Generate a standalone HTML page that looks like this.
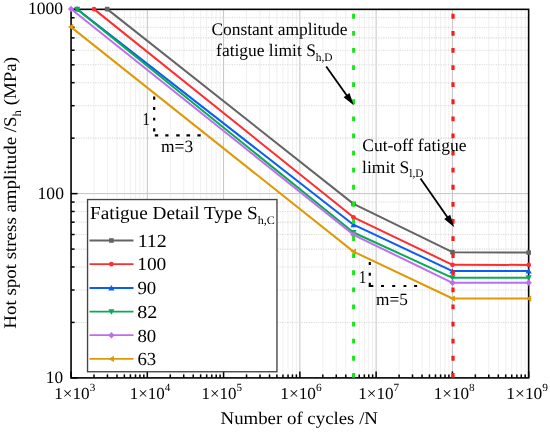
<!DOCTYPE html>
<html><head><meta charset="utf-8"><style>
html,body{margin:0;padding:0;background:#fff;}
body{width:550px;height:432px;overflow:hidden;font-family:"Liberation Serif",serif;}
svg{display:block;will-change:transform;text-rendering:geometricPrecision;}
</style></head><body>
<svg width="550" height="432" viewBox="0 0 550 432">
<rect width="550" height="432" fill="#fff"/>
<g><line x1="94.01" y1="9.35" x2="94.01" y2="377.9" stroke="#e0e0e0" stroke-width="1" stroke-dasharray="1 1"/><line x1="107.44" y1="9.35" x2="107.44" y2="377.9" stroke="#e0e0e0" stroke-width="1" stroke-dasharray="1 1"/><line x1="116.97" y1="9.35" x2="116.97" y2="377.9" stroke="#e0e0e0" stroke-width="1" stroke-dasharray="1 1"/><line x1="124.36" y1="9.35" x2="124.36" y2="377.9" stroke="#e0e0e0" stroke-width="1" stroke-dasharray="1 1"/><line x1="130.40" y1="9.35" x2="130.40" y2="377.9" stroke="#e0e0e0" stroke-width="1" stroke-dasharray="1 1"/><line x1="135.51" y1="9.35" x2="135.51" y2="377.9" stroke="#e0e0e0" stroke-width="1" stroke-dasharray="1 1"/><line x1="139.93" y1="9.35" x2="139.93" y2="377.9" stroke="#e0e0e0" stroke-width="1" stroke-dasharray="1 1"/><line x1="143.83" y1="9.35" x2="143.83" y2="377.9" stroke="#e0e0e0" stroke-width="1" stroke-dasharray="1 1"/><line x1="147.32" y1="9.35" x2="147.32" y2="377.9" stroke="#c4c4c4" stroke-width="1"/><line x1="170.28" y1="9.35" x2="170.28" y2="377.9" stroke="#e0e0e0" stroke-width="1" stroke-dasharray="1 1"/><line x1="183.71" y1="9.35" x2="183.71" y2="377.9" stroke="#e0e0e0" stroke-width="1" stroke-dasharray="1 1"/><line x1="193.24" y1="9.35" x2="193.24" y2="377.9" stroke="#e0e0e0" stroke-width="1" stroke-dasharray="1 1"/><line x1="200.63" y1="9.35" x2="200.63" y2="377.9" stroke="#e0e0e0" stroke-width="1" stroke-dasharray="1 1"/><line x1="206.67" y1="9.35" x2="206.67" y2="377.9" stroke="#e0e0e0" stroke-width="1" stroke-dasharray="1 1"/><line x1="211.78" y1="9.35" x2="211.78" y2="377.9" stroke="#e0e0e0" stroke-width="1" stroke-dasharray="1 1"/><line x1="216.20" y1="9.35" x2="216.20" y2="377.9" stroke="#e0e0e0" stroke-width="1" stroke-dasharray="1 1"/><line x1="220.10" y1="9.35" x2="220.10" y2="377.9" stroke="#e0e0e0" stroke-width="1" stroke-dasharray="1 1"/><line x1="223.59" y1="9.35" x2="223.59" y2="377.9" stroke="#c4c4c4" stroke-width="1"/><line x1="246.55" y1="9.35" x2="246.55" y2="377.9" stroke="#e0e0e0" stroke-width="1" stroke-dasharray="1 1"/><line x1="259.98" y1="9.35" x2="259.98" y2="377.9" stroke="#e0e0e0" stroke-width="1" stroke-dasharray="1 1"/><line x1="269.51" y1="9.35" x2="269.51" y2="377.9" stroke="#e0e0e0" stroke-width="1" stroke-dasharray="1 1"/><line x1="276.90" y1="9.35" x2="276.90" y2="377.9" stroke="#e0e0e0" stroke-width="1" stroke-dasharray="1 1"/><line x1="282.94" y1="9.35" x2="282.94" y2="377.9" stroke="#e0e0e0" stroke-width="1" stroke-dasharray="1 1"/><line x1="288.05" y1="9.35" x2="288.05" y2="377.9" stroke="#e0e0e0" stroke-width="1" stroke-dasharray="1 1"/><line x1="292.47" y1="9.35" x2="292.47" y2="377.9" stroke="#e0e0e0" stroke-width="1" stroke-dasharray="1 1"/><line x1="296.37" y1="9.35" x2="296.37" y2="377.9" stroke="#e0e0e0" stroke-width="1" stroke-dasharray="1 1"/><line x1="299.86" y1="9.35" x2="299.86" y2="377.9" stroke="#c4c4c4" stroke-width="1"/><line x1="322.82" y1="9.35" x2="322.82" y2="377.9" stroke="#e0e0e0" stroke-width="1" stroke-dasharray="1 1"/><line x1="336.25" y1="9.35" x2="336.25" y2="377.9" stroke="#e0e0e0" stroke-width="1" stroke-dasharray="1 1"/><line x1="345.78" y1="9.35" x2="345.78" y2="377.9" stroke="#e0e0e0" stroke-width="1" stroke-dasharray="1 1"/><line x1="353.17" y1="9.35" x2="353.17" y2="377.9" stroke="#e0e0e0" stroke-width="1" stroke-dasharray="1 1"/><line x1="359.21" y1="9.35" x2="359.21" y2="377.9" stroke="#e0e0e0" stroke-width="1" stroke-dasharray="1 1"/><line x1="364.32" y1="9.35" x2="364.32" y2="377.9" stroke="#e0e0e0" stroke-width="1" stroke-dasharray="1 1"/><line x1="368.74" y1="9.35" x2="368.74" y2="377.9" stroke="#e0e0e0" stroke-width="1" stroke-dasharray="1 1"/><line x1="372.64" y1="9.35" x2="372.64" y2="377.9" stroke="#e0e0e0" stroke-width="1" stroke-dasharray="1 1"/><line x1="376.13" y1="9.35" x2="376.13" y2="377.9" stroke="#c4c4c4" stroke-width="1"/><line x1="399.09" y1="9.35" x2="399.09" y2="377.9" stroke="#e0e0e0" stroke-width="1" stroke-dasharray="1 1"/><line x1="412.52" y1="9.35" x2="412.52" y2="377.9" stroke="#e0e0e0" stroke-width="1" stroke-dasharray="1 1"/><line x1="422.05" y1="9.35" x2="422.05" y2="377.9" stroke="#e0e0e0" stroke-width="1" stroke-dasharray="1 1"/><line x1="429.44" y1="9.35" x2="429.44" y2="377.9" stroke="#e0e0e0" stroke-width="1" stroke-dasharray="1 1"/><line x1="435.48" y1="9.35" x2="435.48" y2="377.9" stroke="#e0e0e0" stroke-width="1" stroke-dasharray="1 1"/><line x1="440.59" y1="9.35" x2="440.59" y2="377.9" stroke="#e0e0e0" stroke-width="1" stroke-dasharray="1 1"/><line x1="445.01" y1="9.35" x2="445.01" y2="377.9" stroke="#e0e0e0" stroke-width="1" stroke-dasharray="1 1"/><line x1="448.91" y1="9.35" x2="448.91" y2="377.9" stroke="#e0e0e0" stroke-width="1" stroke-dasharray="1 1"/><line x1="452.40" y1="9.35" x2="452.40" y2="377.9" stroke="#c4c4c4" stroke-width="1"/><line x1="475.36" y1="9.35" x2="475.36" y2="377.9" stroke="#e0e0e0" stroke-width="1" stroke-dasharray="1 1"/><line x1="488.79" y1="9.35" x2="488.79" y2="377.9" stroke="#e0e0e0" stroke-width="1" stroke-dasharray="1 1"/><line x1="498.32" y1="9.35" x2="498.32" y2="377.9" stroke="#e0e0e0" stroke-width="1" stroke-dasharray="1 1"/><line x1="505.71" y1="9.35" x2="505.71" y2="377.9" stroke="#e0e0e0" stroke-width="1" stroke-dasharray="1 1"/><line x1="511.75" y1="9.35" x2="511.75" y2="377.9" stroke="#e0e0e0" stroke-width="1" stroke-dasharray="1 1"/><line x1="516.86" y1="9.35" x2="516.86" y2="377.9" stroke="#e0e0e0" stroke-width="1" stroke-dasharray="1 1"/><line x1="521.28" y1="9.35" x2="521.28" y2="377.9" stroke="#e0e0e0" stroke-width="1" stroke-dasharray="1 1"/><line x1="525.18" y1="9.35" x2="525.18" y2="377.9" stroke="#e0e0e0" stroke-width="1" stroke-dasharray="1 1"/><line x1="71.05" y1="322.43" x2="528.65" y2="322.43" stroke="#d9d9d9" stroke-width="1.1" stroke-dasharray="1.2 1.2"/><line x1="71.05" y1="289.98" x2="528.65" y2="289.98" stroke="#d9d9d9" stroke-width="1.1" stroke-dasharray="1.2 1.2"/><line x1="71.05" y1="266.96" x2="528.65" y2="266.96" stroke="#d9d9d9" stroke-width="1.1" stroke-dasharray="1.2 1.2"/><line x1="71.05" y1="249.10" x2="528.65" y2="249.10" stroke="#d9d9d9" stroke-width="1.1" stroke-dasharray="1.2 1.2"/><line x1="71.05" y1="234.51" x2="528.65" y2="234.51" stroke="#d9d9d9" stroke-width="1.1" stroke-dasharray="1.2 1.2"/><line x1="71.05" y1="222.17" x2="528.65" y2="222.17" stroke="#d9d9d9" stroke-width="1.1" stroke-dasharray="1.2 1.2"/><line x1="71.05" y1="211.48" x2="528.65" y2="211.48" stroke="#d9d9d9" stroke-width="1.1" stroke-dasharray="1.2 1.2"/><line x1="71.05" y1="202.06" x2="528.65" y2="202.06" stroke="#d9d9d9" stroke-width="1.1" stroke-dasharray="1.2 1.2"/><line x1="71.05" y1="193.62" x2="528.65" y2="193.62" stroke="#c4c4c4" stroke-width="1"/><line x1="71.05" y1="138.15" x2="528.65" y2="138.15" stroke="#d9d9d9" stroke-width="1.1" stroke-dasharray="1.2 1.2"/><line x1="71.05" y1="105.70" x2="528.65" y2="105.70" stroke="#d9d9d9" stroke-width="1.1" stroke-dasharray="1.2 1.2"/><line x1="71.05" y1="82.68" x2="528.65" y2="82.68" stroke="#d9d9d9" stroke-width="1.1" stroke-dasharray="1.2 1.2"/><line x1="71.05" y1="64.82" x2="528.65" y2="64.82" stroke="#d9d9d9" stroke-width="1.1" stroke-dasharray="1.2 1.2"/><line x1="71.05" y1="50.23" x2="528.65" y2="50.23" stroke="#d9d9d9" stroke-width="1.1" stroke-dasharray="1.2 1.2"/><line x1="71.05" y1="37.89" x2="528.65" y2="37.89" stroke="#d9d9d9" stroke-width="1.1" stroke-dasharray="1.2 1.2"/><line x1="71.05" y1="27.21" x2="528.65" y2="27.21" stroke="#d9d9d9" stroke-width="1.1" stroke-dasharray="1.2 1.2"/><line x1="71.05" y1="17.78" x2="528.65" y2="17.78" stroke="#d9d9d9" stroke-width="1.1" stroke-dasharray="1.2 1.2"/></g><g><line x1="71.05" y1="377.9" x2="71.05" y2="371.4" stroke="#000" stroke-width="1.5"/><line x1="94.01" y1="377.9" x2="94.01" y2="374.4" stroke="#000" stroke-width="1.5"/><line x1="107.44" y1="377.9" x2="107.44" y2="374.4" stroke="#000" stroke-width="1.5"/><line x1="116.97" y1="377.9" x2="116.97" y2="374.4" stroke="#000" stroke-width="1.5"/><line x1="124.36" y1="377.9" x2="124.36" y2="374.4" stroke="#000" stroke-width="1.5"/><line x1="130.40" y1="377.9" x2="130.40" y2="374.4" stroke="#000" stroke-width="1.5"/><line x1="135.51" y1="377.9" x2="135.51" y2="374.4" stroke="#000" stroke-width="1.5"/><line x1="139.93" y1="377.9" x2="139.93" y2="374.4" stroke="#000" stroke-width="1.5"/><line x1="143.83" y1="377.9" x2="143.83" y2="374.4" stroke="#000" stroke-width="1.5"/><line x1="147.32" y1="377.9" x2="147.32" y2="371.4" stroke="#000" stroke-width="1.5"/><line x1="170.28" y1="377.9" x2="170.28" y2="374.4" stroke="#000" stroke-width="1.5"/><line x1="183.71" y1="377.9" x2="183.71" y2="374.4" stroke="#000" stroke-width="1.5"/><line x1="193.24" y1="377.9" x2="193.24" y2="374.4" stroke="#000" stroke-width="1.5"/><line x1="200.63" y1="377.9" x2="200.63" y2="374.4" stroke="#000" stroke-width="1.5"/><line x1="206.67" y1="377.9" x2="206.67" y2="374.4" stroke="#000" stroke-width="1.5"/><line x1="211.78" y1="377.9" x2="211.78" y2="374.4" stroke="#000" stroke-width="1.5"/><line x1="216.20" y1="377.9" x2="216.20" y2="374.4" stroke="#000" stroke-width="1.5"/><line x1="220.10" y1="377.9" x2="220.10" y2="374.4" stroke="#000" stroke-width="1.5"/><line x1="223.59" y1="377.9" x2="223.59" y2="371.4" stroke="#000" stroke-width="1.5"/><line x1="246.55" y1="377.9" x2="246.55" y2="374.4" stroke="#000" stroke-width="1.5"/><line x1="259.98" y1="377.9" x2="259.98" y2="374.4" stroke="#000" stroke-width="1.5"/><line x1="269.51" y1="377.9" x2="269.51" y2="374.4" stroke="#000" stroke-width="1.5"/><line x1="276.90" y1="377.9" x2="276.90" y2="374.4" stroke="#000" stroke-width="1.5"/><line x1="282.94" y1="377.9" x2="282.94" y2="374.4" stroke="#000" stroke-width="1.5"/><line x1="288.05" y1="377.9" x2="288.05" y2="374.4" stroke="#000" stroke-width="1.5"/><line x1="292.47" y1="377.9" x2="292.47" y2="374.4" stroke="#000" stroke-width="1.5"/><line x1="296.37" y1="377.9" x2="296.37" y2="374.4" stroke="#000" stroke-width="1.5"/><line x1="299.86" y1="377.9" x2="299.86" y2="371.4" stroke="#000" stroke-width="1.5"/><line x1="322.82" y1="377.9" x2="322.82" y2="374.4" stroke="#000" stroke-width="1.5"/><line x1="336.25" y1="377.9" x2="336.25" y2="374.4" stroke="#000" stroke-width="1.5"/><line x1="345.78" y1="377.9" x2="345.78" y2="374.4" stroke="#000" stroke-width="1.5"/><line x1="353.17" y1="377.9" x2="353.17" y2="374.4" stroke="#000" stroke-width="1.5"/><line x1="359.21" y1="377.9" x2="359.21" y2="374.4" stroke="#000" stroke-width="1.5"/><line x1="364.32" y1="377.9" x2="364.32" y2="374.4" stroke="#000" stroke-width="1.5"/><line x1="368.74" y1="377.9" x2="368.74" y2="374.4" stroke="#000" stroke-width="1.5"/><line x1="372.64" y1="377.9" x2="372.64" y2="374.4" stroke="#000" stroke-width="1.5"/><line x1="376.13" y1="377.9" x2="376.13" y2="371.4" stroke="#000" stroke-width="1.5"/><line x1="399.09" y1="377.9" x2="399.09" y2="374.4" stroke="#000" stroke-width="1.5"/><line x1="412.52" y1="377.9" x2="412.52" y2="374.4" stroke="#000" stroke-width="1.5"/><line x1="422.05" y1="377.9" x2="422.05" y2="374.4" stroke="#000" stroke-width="1.5"/><line x1="429.44" y1="377.9" x2="429.44" y2="374.4" stroke="#000" stroke-width="1.5"/><line x1="435.48" y1="377.9" x2="435.48" y2="374.4" stroke="#000" stroke-width="1.5"/><line x1="440.59" y1="377.9" x2="440.59" y2="374.4" stroke="#000" stroke-width="1.5"/><line x1="445.01" y1="377.9" x2="445.01" y2="374.4" stroke="#000" stroke-width="1.5"/><line x1="448.91" y1="377.9" x2="448.91" y2="374.4" stroke="#000" stroke-width="1.5"/><line x1="452.40" y1="377.9" x2="452.40" y2="371.4" stroke="#000" stroke-width="1.5"/><line x1="475.36" y1="377.9" x2="475.36" y2="374.4" stroke="#000" stroke-width="1.5"/><line x1="488.79" y1="377.9" x2="488.79" y2="374.4" stroke="#000" stroke-width="1.5"/><line x1="498.32" y1="377.9" x2="498.32" y2="374.4" stroke="#000" stroke-width="1.5"/><line x1="505.71" y1="377.9" x2="505.71" y2="374.4" stroke="#000" stroke-width="1.5"/><line x1="511.75" y1="377.9" x2="511.75" y2="374.4" stroke="#000" stroke-width="1.5"/><line x1="516.86" y1="377.9" x2="516.86" y2="374.4" stroke="#000" stroke-width="1.5"/><line x1="521.28" y1="377.9" x2="521.28" y2="374.4" stroke="#000" stroke-width="1.5"/><line x1="525.18" y1="377.9" x2="525.18" y2="374.4" stroke="#000" stroke-width="1.5"/><line x1="528.67" y1="377.9" x2="528.67" y2="371.4" stroke="#000" stroke-width="1.5"/><line x1="71.05" y1="377.90" x2="77.55" y2="377.90" stroke="#000" stroke-width="1.5"/><line x1="71.05" y1="322.43" x2="74.55" y2="322.43" stroke="#000" stroke-width="1.5"/><line x1="71.05" y1="289.98" x2="74.55" y2="289.98" stroke="#000" stroke-width="1.5"/><line x1="71.05" y1="266.96" x2="74.55" y2="266.96" stroke="#000" stroke-width="1.5"/><line x1="71.05" y1="249.10" x2="74.55" y2="249.10" stroke="#000" stroke-width="1.5"/><line x1="71.05" y1="234.51" x2="74.55" y2="234.51" stroke="#000" stroke-width="1.5"/><line x1="71.05" y1="222.17" x2="74.55" y2="222.17" stroke="#000" stroke-width="1.5"/><line x1="71.05" y1="211.48" x2="74.55" y2="211.48" stroke="#000" stroke-width="1.5"/><line x1="71.05" y1="202.06" x2="74.55" y2="202.06" stroke="#000" stroke-width="1.5"/><line x1="71.05" y1="193.62" x2="77.55" y2="193.62" stroke="#000" stroke-width="1.5"/><line x1="71.05" y1="138.15" x2="74.55" y2="138.15" stroke="#000" stroke-width="1.5"/><line x1="71.05" y1="105.70" x2="74.55" y2="105.70" stroke="#000" stroke-width="1.5"/><line x1="71.05" y1="82.68" x2="74.55" y2="82.68" stroke="#000" stroke-width="1.5"/><line x1="71.05" y1="64.82" x2="74.55" y2="64.82" stroke="#000" stroke-width="1.5"/><line x1="71.05" y1="50.23" x2="74.55" y2="50.23" stroke="#000" stroke-width="1.5"/><line x1="71.05" y1="37.89" x2="74.55" y2="37.89" stroke="#000" stroke-width="1.5"/><line x1="71.05" y1="27.21" x2="74.55" y2="27.21" stroke="#000" stroke-width="1.5"/><line x1="71.05" y1="17.78" x2="74.55" y2="17.78" stroke="#000" stroke-width="1.5"/><line x1="71.05" y1="9.35" x2="77.55" y2="9.35" stroke="#000" stroke-width="1.5"/></g><rect x="71.05" y="9.35" width="457.60" height="368.55" fill="none" stroke="#000" stroke-width="1.6"/><g><polyline points="107.2,9.1 353.5,203.9 452.5,252.2 528.7,252.6" fill="none" stroke="#646464" stroke-width="2" stroke-linejoin="round"/><rect x="104.90" y="6.80" width="4.59" height="4.59" fill="#646464"/><rect x="351.20" y="201.60" width="4.59" height="4.59" fill="#646464"/><rect x="450.20" y="249.90" width="4.59" height="4.59" fill="#646464"/><rect x="526.40" y="250.30" width="4.59" height="4.59" fill="#646464"/><polyline points="94.0,9.1 353.5,217.3 452.5,264.8 528.7,264.9" fill="none" stroke="#ff2d2d" stroke-width="2" stroke-linejoin="round"/><circle cx="94.00" cy="9.10" r="2.38" fill="#ff2d2d"/><circle cx="353.50" cy="217.30" r="2.38" fill="#ff2d2d"/><circle cx="452.50" cy="264.80" r="2.38" fill="#ff2d2d"/><circle cx="528.70" cy="264.90" r="2.38" fill="#ff2d2d"/><polyline points="77.0,9.0 353.5,224.7 452.5,271.1 528.7,271.1" fill="none" stroke="#0a5ef0" stroke-width="2" stroke-linejoin="round"/><polygon points="77.00,6.06 80.08,11.52 73.92,11.52" fill="#0a5ef0"/><polygon points="353.50,221.76 356.58,227.22 350.42,227.22" fill="#0a5ef0"/><polygon points="452.50,268.16 455.58,273.62 449.42,273.62" fill="#0a5ef0"/><polygon points="528.70,268.16 531.78,273.62 525.62,273.62" fill="#0a5ef0"/><polyline points="77.1,9.2 353.5,232.5 452.5,277.8 528.7,277.8" fill="none" stroke="#0aaa55" stroke-width="2" stroke-linejoin="round"/><polygon points="77.10,12.14 80.18,6.68 74.02,6.68" fill="#0aaa55"/><polygon points="353.50,235.44 356.58,229.98 350.42,229.98" fill="#0aaa55"/><polygon points="452.50,280.74 455.58,275.28 449.42,275.28" fill="#0aaa55"/><polygon points="528.70,280.74 531.78,275.28 525.62,275.28" fill="#0aaa55"/><polyline points="71.1,9.0 353.5,234.8 452.5,282.8 528.7,282.8" fill="none" stroke="#bd6ef0" stroke-width="2" stroke-linejoin="round"/><polygon points="71.10,5.70 74.32,9.00 71.10,12.30 67.88,9.00" fill="#bd6ef0"/><polygon points="353.50,231.50 356.72,234.80 353.50,238.10 350.28,234.80" fill="#bd6ef0"/><polygon points="452.50,279.50 455.72,282.80 452.50,286.10 449.28,282.80" fill="#bd6ef0"/><polygon points="528.70,279.50 531.92,282.80 528.70,286.10 525.48,282.80" fill="#bd6ef0"/><polyline points="70.8,26.9 353.5,251.6 452.5,298.5 528.7,298.6" fill="none" stroke="#de9a06" stroke-width="2" stroke-linejoin="round"/><polygon points="67.86,26.90 73.32,23.82 73.32,29.98" fill="#de9a06"/><polygon points="350.56,251.60 356.02,248.52 356.02,254.68" fill="#de9a06"/><polygon points="449.56,298.50 455.02,295.42 455.02,301.58" fill="#de9a06"/><polygon points="525.76,298.60 531.22,295.52 531.22,301.68" fill="#de9a06"/></g><line x1="353.6" y1="9.35" x2="353.6" y2="377.9" stroke="#19e619" stroke-width="3" stroke-dasharray="4.8 12.3" stroke-dashoffset="-4.5"/><line x1="453" y1="9.35" x2="453" y2="377.9" stroke="#ff1a1a" stroke-width="3.2" stroke-dasharray="4.8 12.3" stroke-dashoffset="-4.5"/><path d="M154.2 96.4V99.8M154.2 107.1V109.9M154.2 117.7V120.6M154.2 128.2V131.4M154.8 135.3H158.2M165.3 135.3H168.5M176.2 135.3H179.7M186.5 135.3H190.1M197.4 135.3H200.7M369.8 262.1V265.0M369.8 272.7V275.7M369.8 282.8V286H373.3M381.0 286H384.0M392.2 286H395.2M403.5 286H406.4M414.1 286H417.1" stroke="#000" stroke-width="2.2" fill="none" stroke-linejoin="miter"/><line x1="326.2" y1="66.6" x2="347.70" y2="96.75" stroke="#000" stroke-width="1.8"/><polygon points="353.8,105.3 343.61,97.21 349.47,93.03" fill="#000"/><line x1="420.5" y1="178.4" x2="448.32" y2="218.57" stroke="#000" stroke-width="1.8"/><polygon points="454.3,227.2 444.22,218.97 450.14,214.87" fill="#000"/><g font-family="Liberation Serif, serif" fill="#000"><text transform="translate(27.97,14.40) scale(1.0156,1)" font-size="17.3">1000</text><text transform="translate(37.57,198.60) scale(1.0174,1)" font-size="17.3">100</text><text transform="translate(45.80,383.30) scale(1.0000,1)" font-size="17.3">10</text><text transform="translate(54.15,398.90) scale(1.0263,1)" font-size="16.8">1×10<tspan font-size="11" dy="-7.5">3</tspan></text><text transform="translate(129.78,398.90) scale(1.0105,1)" font-size="16.8">1×10<tspan font-size="11" dy="-7.5">4</tspan></text><text transform="translate(201.58,398.90) scale(1.0105,1)" font-size="16.8">1×10<tspan font-size="11" dy="-7.5">5</tspan></text><text transform="translate(280.24,398.90) scale(1.0316,1)" font-size="16.8">1×10<tspan font-size="11" dy="-7.5">6</tspan></text><text transform="translate(358.16,398.90) scale(1.0211,1)" font-size="16.8">1×10<tspan font-size="11" dy="-7.5">7</tspan></text><text transform="translate(433.65,398.90) scale(1.0237,1)" font-size="16.8">1×10<tspan font-size="11" dy="-7.5">8</tspan></text><text transform="translate(506.32,398.90) scale(1.0395,1)" font-size="16.8">1×10<tspan font-size="11" dy="-7.5">9</tspan></text><text transform="translate(220.54,424.40) scale(1.0592,1)" font-size="17.8">Number of cycles /N</text><text transform="translate(16.30,328.66) rotate(-90) scale(1.0638,1)" font-size="17.8">Hot spot stress amplitude /S<tspan font-size="12" dy="4.5">h</tspan><tspan dy="-4.5"> (MPa)</tspan></text><text transform="translate(211.41,34.60) scale(0.9912,1)" font-size="17.6">Constant amplitude</text><text transform="translate(216.11,56.40) scale(0.9905,1)" font-size="17.6">fatigue limit S<tspan font-size="11.5" dy="4.7">h,D</tspan></text><text transform="translate(362.20,151.00) scale(0.9951,1)" font-size="17.6">Cut-off fatigue</text><text transform="translate(362.11,172.60) scale(0.9933,1)" font-size="17.6">limit S<tspan font-size="11.5" dy="4.7">l,D</tspan></text><text transform="translate(142.50,125.20) scale(0.8000,1)" font-size="18.0">1</text><text transform="translate(160.99,151.60) scale(1.0100,1)" font-size="17.3">m=3</text><text transform="translate(358.90,282.70) scale(0.8000,1)" font-size="18.0">1</text><text transform="translate(376.00,305.00) scale(1.0000,1)" font-size="17.3">m=5</text></g><g font-family="Liberation Serif, serif" fill="#000"><rect x="87.55" y="199.55" width="189.4" height="172.2" fill="#fff" stroke="#444" stroke-width="1.35"/><text transform="translate(90.05,218.70) scale(1.0463,1)" font-size="18.4">Fatigue Detail Type S<tspan font-size="11.5" dy="5.4">h,C</tspan></text><text transform="translate(137.63,246.60) scale(1.0833,1)" font-size="18.4">112</text><text transform="translate(137.19,270.40) scale(1.0560,1)" font-size="18.4">100</text><text transform="translate(137.38,294.20) scale(1.0235,1)" font-size="18.4">90</text><text transform="translate(137.31,318.00) scale(1.0875,1)" font-size="18.4">82</text><text transform="translate(137.38,341.60) scale(1.0235,1)" font-size="18.4">80</text><text transform="translate(137.38,365.20) scale(1.0235,1)" font-size="18.4">63</text><line x1="89.5" y1="240.5" x2="133.5" y2="240.5" stroke="#646464" stroke-width="1.8"/><rect x="109.10" y="238.20" width="4.59" height="4.59" fill="#646464"/><line x1="89.5" y1="264.2" x2="133.5" y2="264.2" stroke="#ff2d2d" stroke-width="1.8"/><circle cx="111.40" cy="264.20" r="2.38" fill="#ff2d2d"/><line x1="89.5" y1="288.0" x2="133.5" y2="288.0" stroke="#0a5ef0" stroke-width="1.8"/><polygon points="111.40,285.06 114.48,290.52 108.32,290.52" fill="#0a5ef0"/><line x1="89.5" y1="311.7" x2="133.5" y2="311.7" stroke="#0aaa55" stroke-width="1.8"/><polygon points="111.40,314.64 114.48,309.18 108.32,309.18" fill="#0aaa55"/><line x1="89.5" y1="335.2" x2="133.5" y2="335.2" stroke="#bd6ef0" stroke-width="1.8"/><polygon points="111.40,331.90 114.62,335.20 111.40,338.50 108.18,335.20" fill="#bd6ef0"/><line x1="89.5" y1="358.9" x2="133.5" y2="358.9" stroke="#de9a06" stroke-width="1.8"/><polygon points="108.46,358.90 113.92,355.82 113.92,361.98" fill="#de9a06"/></g>
</svg>
</body></html>
